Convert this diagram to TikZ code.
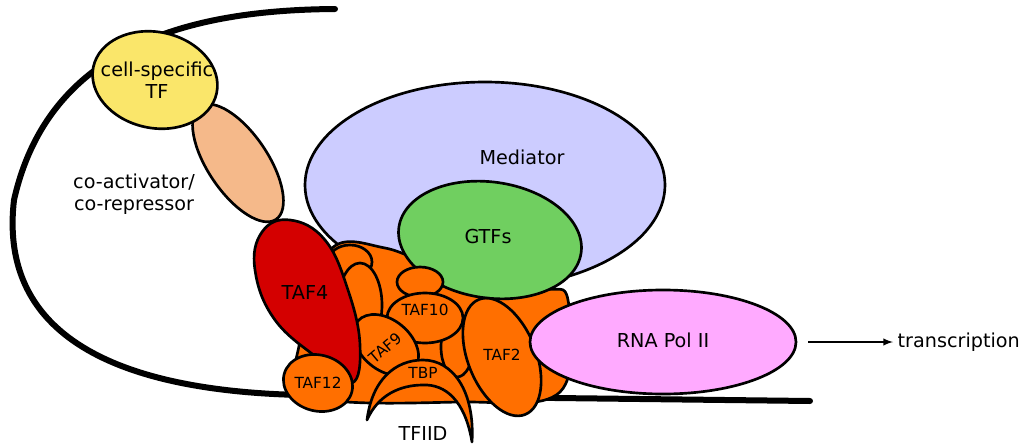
\documentclass[tikz,border=0pt]{standalone}
\usepackage{fontspec}
\setmainfont{DejaVu Sans}
\begin{document}
\begin{tikzpicture}[x=0.75pt,y=-0.75pt,
 blob/.style={draw=black,line width=2pt},
 lab/.style={font=\fontsize{14.4}{16.5}\selectfont,align=center},
 slab/.style={font=\fontsize{11.5}{13}\selectfont}]
\definecolor{cyel}{HTML}{FAE66A}
\definecolor{cpea}{HTML}{F5B98A}
\definecolor{clav}{HTML}{CCCCFF}
\definecolor{cgrn}{HTML}{70CF60}
\definecolor{cred}{HTML}{D40000}
\definecolor{corg}{HTML}{FF6F00}
\definecolor{cpnk}{HTML}{FFAAFF}
\useasboundingbox (0,0) rectangle (1024,446);
% DNA
\draw[line width=4.5pt,line cap=round] (335,9) .. controls (200,10) and (50,40) .. (14,200) .. controls (0,320) and (90,390) .. (300,395) -- (810,401);
% mediator
\draw[blob,fill=clav] (485,185) ellipse [x radius=180,y radius=103];
% orange body
\draw[blob,fill=corg] plot[smooth cycle,tension=0.6] coordinates {(330,250) (385,248) (450,272) (540,288) (568,300) (560,392) (460,402) (310,396) (300,340)};
\draw[blob,fill=corg] (350,262) ellipse [x radius=22,y radius=17];
\draw[blob,fill=corg] (360,305) ellipse [x radius=22,y radius=42];
\draw[blob,fill=corg] (457,347) ellipse [x radius=16,y radius=30];
% GTFs
\draw[blob,fill=cgrn] (490,240) [rotate around={-8:(490,240)}] ellipse [x radius=92,y radius=58];
\node[lab] (gtfs) at (488,237) {GTFs};
\node[lab] (med) at (522,157) {Mediator};
% TAF10 and top small
\draw[blob,fill=corg] (420,282) ellipse [x radius=23,y radius=15];
\draw[blob,fill=corg] (425,318) ellipse [x radius=38,y radius=25];
\node[slab] (taf10) at (425,310) {TAF10};
% TAF2
\draw[blob,fill=corg] (502,357) [rotate around={22:(502,357)}] ellipse [x radius=34,y radius=62];
\node[slab] (taf2) at (502,355) {TAF2};
% TAF9
\draw[blob,fill=corg] (386,345) [rotate around={-40:(386,345)}] ellipse [x radius=37,y radius=25];
\node[slab,rotate=40,inner sep=0pt] (taf9) at (385,348) {TAF9};
% TBP crescent
\draw[blob,fill=corg,line join=round] (367,420) .. controls (372,380) and (395,360) .. (423,360) .. controls (452,360) and (475,390) .. (472,442) .. controls (465,400) and (445,384) .. (423,385) .. controls (400,385) and (378,395) .. (367,420) -- cycle;
\node[slab,inner sep=0pt] (tbp) at (423,373) {TBP};
% RNA Pol II
\draw[blob,fill=cpnk] (663,342) ellipse [x radius=133,y radius=52];
\node[lab] (pol) at (663,340) {RNA Pol II};
% coactivator
\draw[blob,fill=cpea] (238,163) [rotate around={34:(238,163)}] ellipse [x radius=30,y radius=68];
\node[lab] (coact) at (134,194) {co-activator/\\co-repressor};
% TF
\draw[blob,fill=cyel] (155,80) [rotate around={-12:(155,80)}] ellipse [x radius=63,y radius=48];
\node[lab] (tf) at (157,80) {cell-specific\\TF};
% TAF4
\draw[blob,fill=cred] plot[smooth cycle,tension=0.7] coordinates {(290,220) (325,240) (348,290) (360,345) (352,383) (320,360) (275,320) (255,270) (262,232)};
\node[lab] (taf4) at (305,292) {TAF4};
% TAF12
\draw[blob,fill=corg] (318,383) [rotate around={-15:(318,383)}] ellipse [x radius=35,y radius=28];
\node[slab] (taf12) at (318,383) {TAF12};
\node[lab] (tfiid) at (423,433) {TFIID};
% transcription
\node[lab,anchor=west] (tr) at (893,342) {transcription};
\coordinate (a0) at (808,342);
\draw[line width=1.5pt,-latex] (a0) -- (tr.west);
\end{tikzpicture}
\end{document}
